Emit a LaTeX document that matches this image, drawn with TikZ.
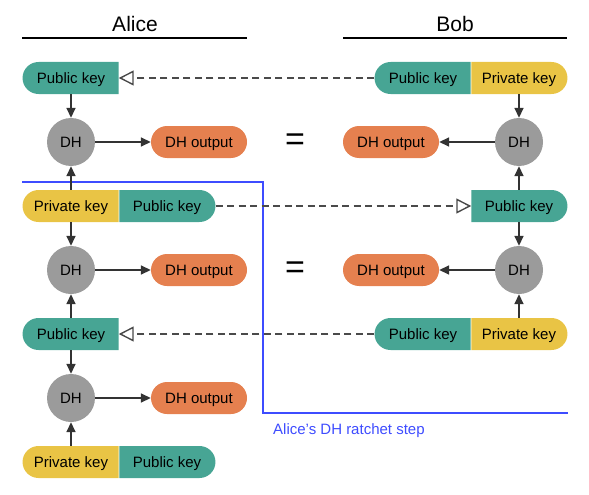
\documentclass[tikz,border=0pt]{standalone}
\usepackage{fontspec}
\setmainfont{Liberation Sans}
\usetikzlibrary{shapes.misc,arrows.meta}
\definecolor{keygreen}{HTML}{47A594}
\definecolor{keyyellow}{HTML}{E9C445}
\definecolor{outorange}{HTML}{E5804F}
\definecolor{dhgrey}{HTML}{9B9B9B}
\definecolor{linegrey}{HTML}{333333}
\definecolor{dashgrey}{HTML}{4A4A4A}
\definecolor{ratchetblue}{HTML}{3E4CFF}
\begin{document}
\begin{tikzpicture}[x=1pt,y=-1pt,
  box/.style={rounded rectangle, minimum width=96pt, minimum height=32pt, inner sep=0pt,
    font=\fontsize{15}{18}\selectfont, text=black, text height=10.7pt, text depth=0pt},
  pub/.style={box, fill=keygreen},
  priv/.style={box, fill=keyyellow},
  outbox/.style={box, fill=outorange},
  lflat/.style={rounded rectangle west arc=none},
  rflat/.style={rounded rectangle east arc=none},
  dhnode/.style={circle, fill=dhgrey, minimum size=48pt, inner sep=0pt,
    font=\fontsize{15}{18}\selectfont, text height=10.7pt, text depth=0pt},
  arr/.style={draw=linegrey, line width=1.6pt, -{Triangle[length=10pt,width=9pt]}},
  dasharr/.style={draw=dashgrey, line width=1.6pt, dash pattern=on 7pt off 4.5pt,
    -{Triangle[open,length=15pt,width=15pt,line width=1.4pt,fill=white]}},
  header/.style={font=\fontsize{21}{25}\selectfont},
  hline/.style={draw=black, line width=2pt},
  eqsign/.style={font=\fontsize{34}{40}\selectfont, inner sep=0pt},
  ratchet/.style={draw=ratchetblue, line width=2.7pt},
]
\useasboundingbox (0,0) rectangle (589,495);

% headers
\node[header] (alice) at (135,24) {Alice};
\node[header] (bob) at (455,24) {Bob};
\coordinate (ahl) at (22,38); \coordinate (ahr) at (247,38);
\coordinate (bhl) at (343,38); \coordinate (bhr) at (567,38);
\draw[hline] (ahl) -- (ahr);
\draw[hline] (bhl) -- (bhr);

% ratchet step outline
\coordinate (r0) at (22,182);
\coordinate (r1) at (263,413);
\coordinate (r2) at (568,413);
\draw[ratchet] (r0) -| (r1) -- (r2);
\node[anchor=west, text=ratchetblue, font=\fontsize{15}{18}\selectfont, inner sep=0pt] (lbl) at (273,431) {Alice’s DH ratchet step};

% Alice
\node[pub, rflat] (a1) at (71,78) {Public key};
\node[dhnode] (adh1) at (71,142) {DH};
\node[outbox] (aout1) at (199,142) {DH output};
\node[priv, rflat] (a3priv) at (71,206) {Private key};
\node[pub, lflat] (a3pub) at (167,206) {Public key};
\node[dhnode] (adh2) at (71,270) {DH};
\node[outbox] (aout2) at (199,270) {DH output};
\node[pub, rflat] (a5) at (71,334) {Public key};
\node[dhnode] (adh3) at (71,398) {DH};
\node[outbox] (aout3) at (199,398) {DH output};
\node[priv, rflat] (a7priv) at (71,462) {Private key};
\node[pub, lflat] (a7pub) at (167,462) {Public key};

% Bob
\node[pub, rflat] (b1pub) at (423,78) {Public key};
\node[priv, lflat] (b1priv) at (519,78) {Private key};
\node[dhnode] (bdh1) at (519,142) {DH};
\node[outbox] (bout1) at (391,142) {DH output};
\node[pub, lflat] (b3) at (519,206) {Public key};
\node[dhnode] (bdh2) at (519,270) {DH};
\node[outbox] (bout2) at (391,270) {DH output};
\node[pub, rflat] (b5pub) at (423,334) {Public key};
\node[priv, lflat] (b5priv) at (519,334) {Private key};

% equals
\node[eqsign] (eq1) at (295,142) {=};
\node[eqsign] (eq2) at (295,270) {=};

% Alice arrows
\draw[arr] (a1.south) -- (adh1.north);
\draw[arr] (adh1.east) -- (aout1.west);
\draw[arr] (a3priv.north) -- (adh1.south);
\draw[arr] (a3priv.south) -- (adh2.north);
\draw[arr] (adh2.east) -- (aout2.west);
\draw[arr] (a5.north) -- (adh2.south);
\draw[arr] (a5.south) -- (adh3.north);
\draw[arr] (adh3.east) -- (aout3.west);
\draw[arr] (a7priv.north) -- (adh3.south);

% Bob arrows
\draw[arr] (b1priv.south) -- (bdh1.north);
\draw[arr] (bdh1.west) -- (bout1.east);
\draw[arr] (b3.north) -- (bdh1.south);
\draw[arr] (b3.south) -- (bdh2.north);
\draw[arr] (bdh2.west) -- (bout2.east);
\draw[arr] (b5priv.north) -- (bdh2.south);

% key exchange
\draw[dasharr] (b1pub.west) -- (a1.east);
\draw[dasharr] (a3pub.east) -- (b3.west);
\draw[dasharr] (b5pub.west) -- (a5.east);
\end{tikzpicture}
\end{document}
